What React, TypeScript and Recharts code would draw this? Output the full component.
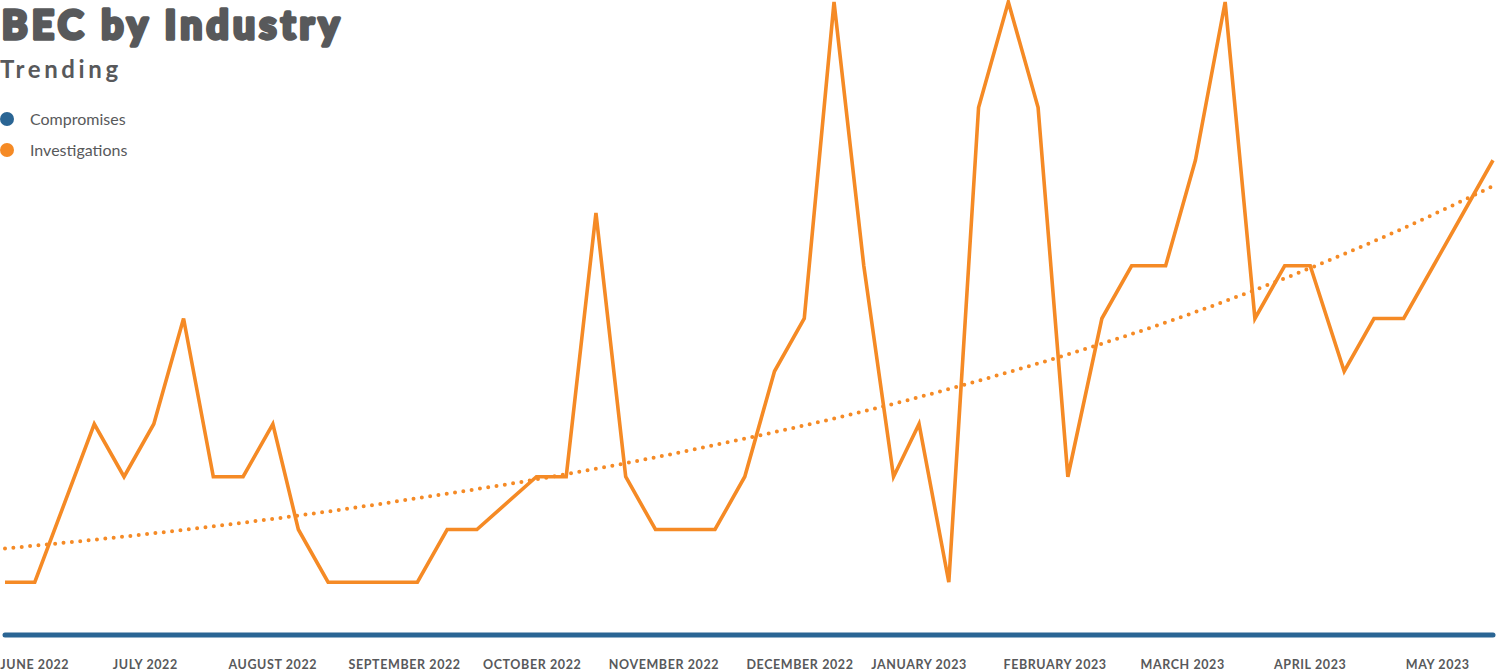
import React from "react";
import { LineChart, Line, XAxis, YAxis } from "recharts";

// Day offsets (from first reported week) of each data point
const days = [
  0, 7, 21, 28, 35, 42, 49, 56, 63, 69, 76, 83, 90, 97, 104, 111, 125, 132, 139,
  146, 153, 160, 167, 174, 181, 188, 195, 202, 209, 215, 222, 229, 236, 243, 250,
  258, 265, 273, 280, 287, 294, 301, 307, 315, 322, 329, 336, 343, 350,
];
const investigations = [
  1, 1, 4, 3, 4, 6, 3, 3, 4, 2, 1, 1, 1, 1, 2, 2, 3, 3, 8,
  3, 2, 2, 2, 3, 5, 6, 12, 7, 3, 4, 1, 10, 12, 10, 3,
  6, 7, 7, 9, 12, 6, 7, 7, 5, 6, 6, 7, 8, 9,
];
const compromises = [
  0, 0, 0, 0, 0, 0, 0, 0, 0, 0, 0, 0, 0, 0, 0, 0, 0, 0, 0,
  0, 0, 0, 0, 0, 0, 0, 0, 0, 0, 0, 0, 0, 0, 0, 0,
  0, 0, 0, 0, 0, 0, 0, 0, 0, 0, 0, 0, 0, 0,
];
// Trendline (dotted) values
const trendDays = [0, 25, 50, 75, 100, 125, 150, 175, 200, 225, 250, 275, 300, 325, 350];
const trendValues = [1.64, 1.84, 2.07, 2.33, 2.63, 2.95, 3.32, 3.74, 4.2, 4.73, 5.32, 5.98, 6.73, 7.57, 8.51];

const monthTicks = [7, 33, 63, 94, 124, 155, 187, 215, 247, 277, 307, 337];
const monthLabels = [
  "JUNE 2022", "JULY 2022", "AUGUST 2022", "SEPTEMBER 2022", "OCTOBER 2022",
  "NOVEMBER 2022", "DECEMBER 2022", "JANUARY 2023", "FEBRUARY 2023",
  "MARCH 2023", "APRIL 2023", "MAY 2023",
];

const ORANGE = "#f58a25";
const BLUE = "#2a6594";
const GRAY = "#58595b";

const mainData = days.map((d, i) => ({
  day: d,
  investigations: investigations[i],
  compromises: compromises[i],
}));
const trendData = trendDays.map((d, i) => ({ day: d, trend: trendValues[i] }));

const legendItems = [
  { name: "Compromises", color: BLUE },
  { name: "Investigations", color: ORANGE },
];

export default function App() {
  return (
    <div
      style={{
        position: "absolute",
        left: 0,
        top: 0,
        width: 1500,
        height: 671,
        background: "#fff",
        fontFamily: "Lato, sans-serif",
        overflow: "hidden",
      }}
    >
      <LineChart
        width={1500}
        height={671}
        margin={{ top: 2, right: 7, bottom: 0, left: 5 }}
      >
        <XAxis
          dataKey="day"
          type="number"
          domain={[0, 350]}
          ticks={monthTicks}
          interval={0}
          axisLine={false}
          tickLine={false}
          tickSize={0}
          tickMargin={25}
          height={36}
          tickFormatter={(v: number) => monthLabels[monthTicks.indexOf(v)] ?? ""}
          tick={{
            fill: GRAY,
            fontSize: 12.5,
            fontFamily: "Lato, sans-serif",
            fontWeight: 700,
            letterSpacing: 0.6,
          }}
        />
        <YAxis hide domain={[0, 12]} />
        <Line
          data={mainData}
          dataKey="compromises"
          stroke={BLUE}
          strokeWidth={5}
          strokeLinecap="round"
          dot={false}
          activeDot={false}
          isAnimationActive={false}
        />
        <Line
          data={trendData}
          dataKey="trend"
          type="monotone"
          stroke={ORANGE}
          strokeWidth={4}
          strokeLinecap="round"
          strokeDasharray="0 8.4"
          dot={false}
          activeDot={false}
          isAnimationActive={false}
        />
        <Line
          data={mainData}
          dataKey="investigations"
          type="linear"
          stroke={ORANGE}
          strokeWidth={3.6}
          strokeLinejoin="miter"
          dot={false}
          activeDot={false}
          isAnimationActive={false}
        />
      </LineChart>

      <svg
        width={360}
        height={170}
        style={{ position: "absolute", left: 0, top: 0, pointerEvents: "none" }}
        fontFamily="Lato, sans-serif"
      >
        <text
          x={1.7}
          y={38.6}
          fontSize={39}
          fontWeight={900}
          fill={GRAY}
          stroke={GRAY}
          strokeWidth={3.4}
          strokeLinejoin="round"
          letterSpacing={4.2}
        >
          BEC by Industry
        </text>
        <text x={0} y={78} fontSize={24} fontWeight={700} fill={GRAY} letterSpacing={3.6}>
          Trending
        </text>
        {legendItems.map((it, i) => (
          <g key={it.name}>
            <circle cx={7} cy={119 + i * 31} r={7} fill={it.color} />
            <text x={30} y={124.7 + i * 31} fontSize={16} fill={GRAY}>
              {it.name}
            </text>
          </g>
        ))}
      </svg>
    </div>
  );
}
